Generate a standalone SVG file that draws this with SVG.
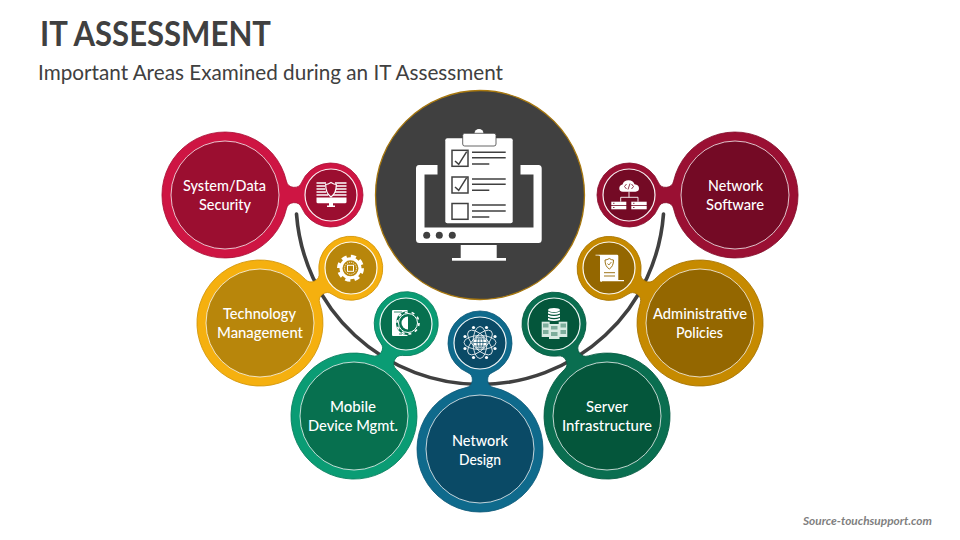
<svg xmlns="http://www.w3.org/2000/svg" width="960" height="540" viewBox="0 0 960 540">
<style>
text{font-family:"Lato","Open Sans","Liberation Sans",sans-serif}
.title{font-size:34px;font-weight:700;fill:#404040}
.sub{font-size:21px;fill:#404040}
.lbl{font-size:15.5px;font-weight:500;fill:#fff;text-anchor:middle}
.src{font-size:11px;font-weight:700;font-style:italic;fill:#7f7f7f}
.ring{stroke:#fff;stroke-opacity:.75;stroke-width:1}
.ring2{stroke:#fff;stroke-width:1.2;stroke-opacity:.95}
.w{fill:#fff}
.nf{fill:none;stroke:#fff}
.d{fill:#404040}
.dl{fill:none;stroke:#404040;stroke-width:1.5}
</style>
<defs>
<path id="blob" d="M61.4 -13.9A8 8 0 0 0 76.6 -12.6A32 32 0 1 1 76.6 12.6A8 8 0 0 0 61.4 13.9A63 63 0 1 1 61.4 -13.9Z"/>
</defs>
<rect width="960" height="540" fill="#fff"/>
<text class="title" x="40" y="46" textLength="231" lengthAdjust="spacingAndGlyphs">IT ASSESSMENT</text>
<text class="sub" x="38" y="80" textLength="465" lengthAdjust="spacingAndGlyphs">Important Areas Examined during an IT Assessment</text>
<g id="connectors">
<path d="M296.5 214A184 184 0 0 0 663.5 214" fill="none" stroke="#404040" stroke-width="3.6" stroke-linecap="round"/>
</g>
<g id="node-center">
<circle cx="480" cy="195" r="104.5" fill="#404040" stroke="#A8780F" stroke-width="1.3"/>
<path class="w" d="M419 165H437.5V174.5H424.5V227.5H533.5V174.5H520.5V165H538.5Q541.7 165 541.7 168.500V239.500Q541.700 243 538.500 243H419.500Q416 243 416 239.500V168.500Q416 165 419 165Z"/>
<circle class="d" cx="426.700" cy="235.300" r="3.500"/><circle class="d" cx="439.300" cy="235.300" r="3.500"/><circle class="d" cx="452.300" cy="235.300" r="3.500"/>
<rect class="w" x="460.700" y="245" width="36" height="13.500"/><rect class="w" x="452" y="258" width="54" height="2.700"/>
<rect class="w" x="445.300" y="138.300" width="67.400" height="85" rx="2"/>
<circle class="w" cx="479" cy="133.500" r="4.500"/>
<rect class="w" x="462.700" y="133.300" width="33.300" height="12.700" rx="2" stroke="#404040" stroke-width=".8"/>
<path class="w" d="M474 134h10v3h-10z"/>
<rect class="dl" x="452" y="150.300" width="16" height="16"/><rect class="dl" x="452" y="177" width="16" height="16"/><rect class="dl" x="452" y="203.500" width="16" height="15.800"/>
<path class="dl" d="M455 161l3.700 3.300 8-12.600M455 187l3.700 3.300 8-12.600"/>
<path class="dl" d="M472 152.300H505.700M472 157.700H505.700M472 164H489.300M472 179H505.700M472 184.300H505.700M472 190.300H489.300M472 205H505.700M472 211H505.700M472 217H489.300"/>
</g>
<g id="node-system-data-security">
<use href="#blob" transform="translate(225 195)" fill="#CE1543" stroke="#A80F35" stroke-width=".8"/>
<circle cx="225" cy="195" r="54" fill="#9B0E30" class="ring"/><circle cx="331" cy="195" r="26" fill="#9B0E30" class="ring2"/>
<path class="nf" stroke-width="1.300" d="M316.500 183H326M316.500 186H325M316.500 189H325M316.500 192H326M316.500 195H328M335 183H346.500M336 186H346.500M336 189H346.500M335 192H346.500M333 195H346.500"/>
<path class="w" d="M316.500 197.500H346.500V202Q346.500 203.300 345 203.300H318Q316.500 203.300 316.500 202ZM329 203.300H333V205.500H335V207H327V205.500H329Z"/>
<path class="nf" stroke-width="1.200" d="M331 182.500Q334 184.500 336.300 184.500Q336.500 193 331 197Q325.500 193 325.700 184.500Q328 184.500 331 182.500Z"/>
<text class="lbl" x="224.500" y="191" textLength="83" lengthAdjust="spacingAndGlyphs">System/Data</text>
<text class="lbl" x="225" y="210" textLength="52" lengthAdjust="spacingAndGlyphs">Security</text>
</g>
<g id="node-technology-management">
<use href="#blob" transform="translate(260 323) rotate(-31.100)" fill="#F5B00F" stroke="#D3960A" stroke-width=".8"/>
<circle cx="260" cy="323" r="54" fill="#B8860B" class="ring"/><circle cx="351" cy="268" r="26" fill="#B8860B" class="ring2"/>
<circle cx="350.500" cy="268.300" r="11.500" fill="none" stroke="#fff" stroke-width="4" stroke-dasharray="5 4.030"/>
<circle cx="350.500" cy="268.300" r="9.500" fill="none" stroke="#fff" stroke-width="3"/>
<circle cx="350.500" cy="268.300" r="6" fill="none" stroke="#fff" stroke-width="1" stroke-dasharray="1 1"/>
<rect class="nf" stroke-width="1" x="347.500" y="265.300" width="6" height="6"/>
<text class="lbl" x="259.500" y="319" textLength="73" lengthAdjust="spacingAndGlyphs">Technology</text>
<text class="lbl" x="260" y="338" textLength="86" lengthAdjust="spacingAndGlyphs">Management</text>
</g>
<g id="node-mobile-device-mgmt">
<use href="#blob" transform="translate(354 416) rotate(-60.500)" fill="#0A9C74" stroke="#0A8060" stroke-width=".8"/>
<circle cx="354" cy="416" r="54" fill="#07704F" class="ring"/><circle cx="406" cy="324" r="26" fill="#07704F" class="ring2"/>
<path class="w" d="M392 311Q392 310 393 310H407.500V336H393Q392 336 392 335Z"/>
<circle cx="408" cy="323" r="12" fill="#07704F"/>
<circle cx="408" cy="323" r="9.500" fill="none" stroke="#fff" stroke-width="1"/>
<circle cx="408" cy="323" r="11" fill="none" stroke="#fff" stroke-width="1.600" stroke-dasharray="3 3.900"/>
<path class="w" d="M408 316.500V329.500A6.500 6.500 0 0 1 408 316.500Z"/>
<path d="M394 312h8M399 334h3" stroke="#07704F" stroke-width=".8"/>
<text class="lbl" x="353" y="412" textLength="46" lengthAdjust="spacingAndGlyphs">Mobile</text>
<text class="lbl" x="353" y="431" textLength="90" lengthAdjust="spacingAndGlyphs">Device Mgmt.</text>
</g>
<g id="node-network-design">
<use href="#blob" transform="translate(480 449) rotate(-90)" fill="#0F6A8C" stroke="#0C5877" stroke-width=".8"/>
<circle cx="480" cy="449" r="54" fill="#0A4A66" class="ring"/><circle cx="480" cy="343" r="26" fill="#0A4A66" class="ring2"/>
<g class="nf" fill="none" stroke="#fff" stroke-width=".8">
<ellipse cx="480" cy="342.500" rx="16" ry="7"/><ellipse cx="480" cy="342.500" rx="7" ry="16"/>
<ellipse cx="480" cy="342.500" rx="16" ry="7" transform="rotate(45 480 342.500)"/><ellipse cx="480" cy="342.500" rx="16" ry="7" transform="rotate(-45 480 342.500)"/>
</g>
<circle cx="480" cy="342.500" r="6.500" fill="#fff"/>
<path d="M473.500 342.500H486.500M474.500 339H485.500M474.500 346H485.500M480 336V349" stroke="#0A4A66" stroke-width=".7" fill="none"/>
<ellipse cx="480" cy="342.500" rx="3" ry="6.500" fill="none" stroke="#0A4A66" stroke-width=".7"/>
<g class="w"><circle cx="473.500" cy="327.500" r="1.600"/><circle cx="486.500" cy="327.500" r="1.600"/><circle cx="465" cy="336.500" r="1.600"/><circle cx="495" cy="336.500" r="1.600"/><circle cx="465" cy="348.500" r="1.600"/><circle cx="495" cy="348.500" r="1.600"/><circle cx="473.500" cy="357.500" r="1.600"/><circle cx="486.500" cy="357.500" r="1.600"/></g>
<text class="lbl" x="480" y="446" textLength="56" lengthAdjust="spacingAndGlyphs">Network</text>
<text class="lbl" x="480" y="465" textLength="42" lengthAdjust="spacingAndGlyphs">Design</text>
</g>
<g id="node-server-infrastructure">
<use href="#blob" transform="translate(607 416) rotate(-120)" fill="#0A6E50" stroke="#085C43" stroke-width=".8"/>
<circle cx="607" cy="416" r="54" fill="#04563B" class="ring"/><circle cx="554" cy="324" r="26" fill="#04563B" class="ring2"/>
<g fill="#fff"><ellipse cx="554" cy="310" rx="6" ry="2"/><path d="M548 311.500Q554 314 560 311.500V313.500Q554 316 548 313.500ZM548 314.700Q554 317.200 560 314.700V316.700Q554 319.200 548 316.700ZM548 317.900Q554 320.400 560 317.900V320Q554 322 548 320Z"/></g>
<g fill="#D8EBE3"><rect x="541.700" y="321.700" width="8" height="15.300"/><rect x="558.700" y="321.700" width="8.600" height="15.300"/><rect x="549" y="324" width="10.500" height="15"/></g>
<g fill="#7DAE9C"><rect x="543" y="323.500" width="5.500" height="4"/><rect x="543" y="330" width="5.500" height="4"/><rect x="560.500" y="323.500" width="5.500" height="4"/><rect x="560.500" y="330" width="5.500" height="4"/><rect x="551" y="326" width="6.500" height="3.500"/><rect x="551" y="332" width="6.500" height="4"/></g>
<text class="lbl" x="607" y="412" textLength="42" lengthAdjust="spacingAndGlyphs">Server</text>
<text class="lbl" x="607" y="431" textLength="90" lengthAdjust="spacingAndGlyphs">Infrastructure</text>
</g>
<g id="node-administrative-policies">
<use href="#blob" transform="translate(700 323) rotate(-149)" fill="#C68A00" stroke="#A87500" stroke-width=".8"/>
<circle cx="700" cy="323" r="54" fill="#946700" class="ring"/><circle cx="609" cy="268" r="26" fill="#946700" class="ring2"/>
<path class="w" d="M595.500 254.800H617Q618.300 254.800 618.300 256V280H624V281.200H602V281.800H601Q600 281.800 600 280.500V256.500Q600 255.600 598 255.600H595.500Z"/>
<path d="M609.300 258.500Q611.500 260 613.500 260Q613.500 266.500 609.300 269Q605 266.500 605 260Q607 260 609.300 258.500Z" fill="none" stroke="#946700" stroke-width=".9"/>
<path d="M607.500 263.500l1.400 1.500 2.500-3" fill="none" stroke="#946700" stroke-width=".8"/>
<path d="M604 272.700H615M604 276H615" stroke="#946700" stroke-width=".9"/>
<text class="lbl" x="700" y="319" textLength="94" lengthAdjust="spacingAndGlyphs">Administrative</text>
<text class="lbl" x="699.500" y="338" textLength="47" lengthAdjust="spacingAndGlyphs">Policies</text>
</g>
<g id="node-network-software">
<use href="#blob" transform="translate(735 195) rotate(180)" fill="#9A1033" stroke="#830C2A" stroke-width=".8"/>
<circle cx="735" cy="195" r="54" fill="#740A25" class="ring"/><circle cx="629" cy="195" r="26" fill="#740A25" class="ring2"/>
<path class="w" d="M623 191.700Q619 191.500 619.300 188Q619.500 185 622.500 184.500Q624 180.300 628.500 180.300Q633 180.300 634.500 184.300Q639 185 639 188.300Q639 191.500 635.500 191.700Z"/>
<path d="M626.500 184l-2 2.500 2 2.500M631.500 184l2 2.500-2 2.500M630 183.500l-2 6" fill="none" stroke="#740A25" stroke-width=".8"/>
<path class="nf" stroke-width=".9" d="M629 191.700V197.300M620.700 201.700V197.300H638V201.700"/>
<g class="w"><rect x="611.300" y="201.700" width="15" height="3.300"/><rect x="611.300" y="205.800" width="15" height="3.500"/><rect x="631.300" y="201.700" width="15.400" height="3.300"/><rect x="631.300" y="205.800" width="15.400" height="3.500"/></g>
<path d="M613 203.300h1.500M613 207.500h1.500M633 203.300h1.500M633 207.500h1.500" stroke="#740A25" stroke-width=".8"/>
<text class="lbl" x="735.500" y="191" textLength="55" lengthAdjust="spacingAndGlyphs">Network</text>
<text class="lbl" x="735" y="210" textLength="58" lengthAdjust="spacingAndGlyphs">Software</text>
</g>
<text class="src" x="803" y="525" textLength="129" lengthAdjust="spacingAndGlyphs">Source-touchsupport.com</text>
</svg>
